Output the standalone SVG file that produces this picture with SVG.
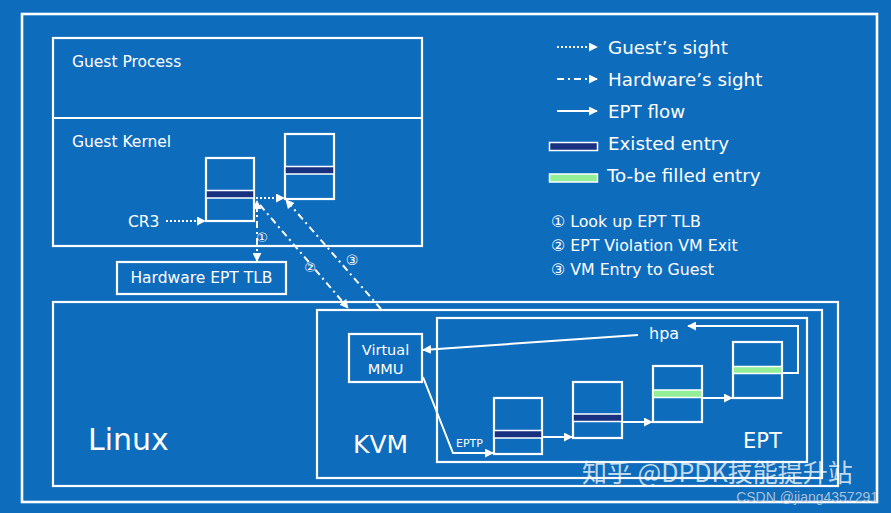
<svg xmlns="http://www.w3.org/2000/svg" width="891" height="513" viewBox="0 0 891 513">
<defs>
<style>
.b{fill:none;stroke:#fff;stroke-width:2.2}
.bo{fill:none;stroke:#fff;stroke-width:2.6}
.t{font-family:"DejaVu Sans",Verdana,sans-serif;fill:#fff}
.dot{fill:none;stroke:#fff;stroke-width:2;stroke-dasharray:2 2}
.dd{fill:none;stroke:#fff;stroke-width:2;stroke-dasharray:7 4 2 4}
.fl{fill:none;stroke:#fff;stroke-width:2}
.ex{fill:#17307f;stroke:#fff;stroke-width:1.5}
.tb{fill:#93ee98;stroke:#fff;stroke-width:1.5}
</style>
<marker id="ah" viewBox="0 0 10 10" refX="9" refY="5" markerWidth="9" markerHeight="9" markerUnits="userSpaceOnUse" orient="auto"><path d="M0,0 L10,5 L0,10 z" fill="#fff"/></marker>
</defs>
<rect width="891" height="513" fill="#0e6cbd"/>
<g id="outer"><rect class="bo" x="22" y="14" width="855" height="488"/></g>
<g id="guest">
<rect class="b" x="53" y="38" width="369" height="208"/>
<line class="b" x1="53" y1="118" x2="422" y2="118"/>
<text class="t" x="72" y="67" font-size="15.5">Guest Process</text>
<text class="t" x="72" y="147" font-size="15.5">Guest Kernel</text>
</g>
<g id="gpt1"><rect class="b" x="206" y="158" width="48" height="63"/><rect class="ex" x="206" y="190.5" width="48" height="7.5"/></g>
<g id="gpt2"><rect class="b" x="285" y="134" width="49" height="65"/><rect class="ex" x="285" y="166.5" width="49" height="7.5"/></g>
<g id="cr3"><text class="t" x="128" y="227" font-size="15.5">CR3</text></g>
<g id="tlb"><rect class="b" x="117" y="262" width="169" height="32"/><text class="t" x="201.5" y="283" font-size="15.5" text-anchor="middle">Hardware EPT TLB</text></g>
<g id="linux"><rect class="b" x="53" y="302" width="785" height="184"/><text class="t" x="88" y="450" font-size="30">Linux</text></g>
<g id="kvm"><rect class="b" x="317" y="310" width="505" height="168"/><text class="t" x="353" y="453" font-size="25">KVM</text></g>
<g id="ept"><rect class="b" x="437" y="318" width="370" height="144"/><text class="t" x="743" y="448" font-size="21">EPT</text></g>
<g id="vmmu"><rect class="b" x="349" y="334" width="73" height="48"/><text class="t" x="385.5" y="355" font-size="14.5" text-anchor="middle">Virtual</text><text class="t" x="385.5" y="374" font-size="14.5" text-anchor="middle">MMU</text></g>
<g id="hpa"><text class="t" x="649" y="339" font-size="16">hpa</text></g>
<g id="eptp"><text class="t" x="456" y="447" font-size="11">EPTP</text></g>
<g id="ept1"><rect class="b" x="494" y="398" width="48" height="56"/><rect class="ex" x="494" y="430.5" width="48" height="7.5"/></g>
<g id="ept2"><rect class="b" x="573" y="382" width="49" height="56"/><rect class="ex" x="573" y="414" width="49" height="7.5"/></g>
<g id="ept3"><rect class="b" x="653" y="366" width="49" height="56"/><rect class="tb" x="653" y="390" width="49" height="7.5"/></g>
<g id="ept4"><rect class="b" x="733" y="342" width="49" height="56"/><rect class="tb" x="733" y="366.5" width="49" height="7"/></g>
<g id="connectors">
<line class="dot" x1="166" y1="221" x2="205" y2="221" marker-end="url(#ah)"/>
<line class="dot" x1="256" y1="198" x2="284" y2="198" marker-end="url(#ah)"/>
<line class="dd" x1="257" y1="212" x2="257" y2="201" marker-end="url(#ah)"/>
<line class="dd" x1="257" y1="204" x2="257" y2="261" marker-end="url(#ah)"/>
<line class="dd" x1="260" y1="205" x2="348" y2="308" marker-end="url(#ah)"/>
<line class="dd" x1="381" y1="309" x2="286" y2="200" marker-end="url(#ah)"/>
<line class="fl" x1="638" y1="335" x2="423" y2="350" marker-end="url(#ah)"/>
<polyline class="fl" points="782,373 798,373 798,326 688,326" marker-end="url(#ah)"/>
<polyline class="fl" points="423,377 453,453 493,453" marker-end="url(#ah)"/>
<line class="fl" x1="542" y1="437" x2="572" y2="437" marker-end="url(#ah)"/>
<line class="fl" x1="622" y1="422" x2="652" y2="422" marker-end="url(#ah)"/>
<line class="fl" x1="702" y1="398" x2="732" y2="398" marker-end="url(#ah)"/>
</g>
<g id="labels">
<text class="t" x="262" y="242" font-size="13" text-anchor="middle">①</text>
<text class="t" x="310" y="272" font-size="13" text-anchor="middle">②</text>
<text class="t" x="352" y="265" font-size="14" text-anchor="middle">③</text>
</g>
<g id="legend">
<line class="dot" x1="557" y1="47" x2="597" y2="47" stroke-width="1.6" stroke-dasharray="1.5 1.5" marker-end="url(#ah)"/>
<text class="t" x="608" y="54" font-size="18.3">Guest’s sight</text>
<line class="dd" x1="557" y1="79" x2="597" y2="79" stroke-width="1.8" stroke-dasharray="6 5 2 5" marker-end="url(#ah)"/>
<text class="t" x="608" y="86" font-size="18.3">Hardware’s sight</text>
<line class="fl" x1="557" y1="111" x2="597" y2="111" marker-end="url(#ah)"/>
<text class="t" x="608" y="118" font-size="18.3">EPT flow</text>
<rect class="ex" x="549.5" y="142.5" width="48" height="8"/>
<text class="t" x="608" y="150" font-size="18.3">Existed entry</text>
<rect class="tb" x="549.5" y="174" width="48" height="8"/>
<text class="t" x="607" y="182" font-size="18.3">To-be filled entry</text>
<text class="t" x="551" y="227" font-size="15.8">① Look up EPT TLB</text>
<text class="t" x="551" y="251" font-size="15.8">② EPT Violation VM Exit</text>
<text class="t" x="551" y="275" font-size="15.8">③ VM Entry to Guest</text>
</g>
<g id="watermark">
<text x="582" y="482" font-size="25" font-family="'Noto Sans CJK SC',sans-serif" fill="#ffffff" fill-opacity="0.75">知乎 @DPDK技能提升站</text>
<text x="878" y="502" font-size="14" font-family="'Liberation Sans',sans-serif" fill="#c8d2dc" fill-opacity="0.85" text-anchor="end">CSDN @jiang4357291</text>
</g>
</svg>
